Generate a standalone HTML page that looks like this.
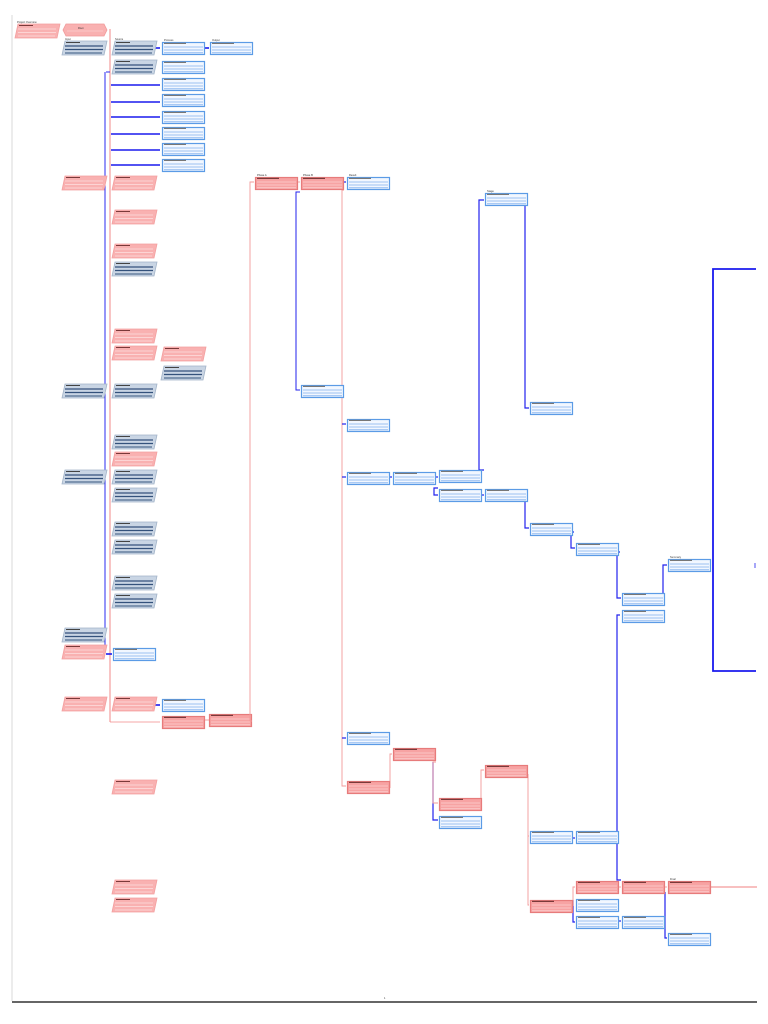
<!DOCTYPE html>
<html><head><meta charset="utf-8"><style>
html,body{margin:0;padding:0;background:#fff;width:768px;height:1024px;overflow:hidden}
svg{display:block}
text{font-family:"Liberation Sans",sans-serif;font-size:2.6px;fill:#333}
</style></head><body>
<svg width="768" height="1024" viewBox="0 0 768 1024" xmlns="http://www.w3.org/2000/svg">
<defs>
<g id="bn"><rect x="0.5" y="0.5" width="42" height="12" fill="#f2f7ff" stroke="#5b9be6" stroke-width="1.2"/><rect x="2" y="0.8" width="22" height="1.2" fill="#777"/><line x1="2" y1="5" x2="41" y2="5" stroke="#7fb0ee" stroke-width="0.8"/><line x1="2" y1="8" x2="41" y2="8" stroke="#7fb0ee" stroke-width="0.8"/><line x1="2" y1="10.8" x2="41" y2="10.8" stroke="#7fb0ee" stroke-width="0.8"/></g>
<g id="pn"><rect x="0.5" y="0.5" width="42" height="12" fill="#f7a3a3" stroke="#e77b7b" stroke-width="1.2"/><rect x="2" y="0.8" width="22" height="1.2" fill="#7a3a3a"/><line x1="2" y1="5" x2="41" y2="5" stroke="#fcd2d2" stroke-width="0.8"/><line x1="2" y1="8" x2="41" y2="8" stroke="#fcd2d2" stroke-width="0.8"/><line x1="2" y1="10.8" x2="41" y2="10.8" stroke="#fcd2d2" stroke-width="0.8"/></g>
<g id="gp"><polygon points="3,0 45,0 42,14 0,14" fill="#c9d5e4" stroke="#a3b4c8" stroke-width="0.8"/><rect x="4" y="1" width="14" height="1" fill="#444"/><line x1="3" y1="5" x2="41" y2="5" stroke="#34527c" stroke-width="1.2"/><line x1="3" y1="8.5" x2="41" y2="8.5" stroke="#34527c" stroke-width="1.2"/><line x1="3" y1="12" x2="40" y2="12" stroke="#34527c" stroke-width="1"/></g>
<g id="pp"><polygon points="3,0 45,0 42,14 0,14" fill="#f9b1b1" stroke="#f3a0a0" stroke-width="0.8"/><rect x="4" y="1" width="14" height="1" fill="#7a3a3a"/><line x1="3" y1="5" x2="41" y2="5" stroke="#fde0e0" stroke-width="0.8"/><line x1="3" y1="8.5" x2="41" y2="8.5" stroke="#fde0e0" stroke-width="0.8"/><line x1="3" y1="12" x2="40" y2="12" stroke="#fde0e0" stroke-width="0.8"/></g>
</defs>

<!-- frame -->
<line x1="12" y1="15" x2="12" y2="1001" stroke="#e6e6e6" stroke-width="1.5"/>
<line x1="12" y1="1002" x2="757" y2="1002" stroke="#333" stroke-width="1.6"/>

<!-- left vertical lines -->
<line x1="110" y1="29" x2="110" y2="722" stroke="#f28a8a" stroke-width="1"/>
<path d="M105,72 V650" stroke="#2b2bf0" stroke-width="1" fill="none"/>
<path d="M106,72 h4" stroke="#2b2bf0" stroke-width="1"/>
<!-- blue horizontal connectors -->
<g stroke="#1a1aee" stroke-width="1.6">
<line x1="111" y1="85" x2="160" y2="85"/><line x1="111" y1="102" x2="160" y2="102"/>
<line x1="111" y1="117" x2="160" y2="117"/><line x1="111" y1="134" x2="160" y2="134"/>
<line x1="111" y1="150" x2="160" y2="150"/><line x1="111" y1="165" x2="160" y2="165"/>
<line x1="155" y1="48" x2="160" y2="48"/><line x1="205" y1="48" x2="209" y2="48"/>
<line x1="155" y1="705" x2="160" y2="705"/><line x1="106" y1="654" x2="112" y2="654"/>
</g>
<path d="M110,722 H160" stroke="#f28a8a" stroke-width="0.8" fill="none"/>
<path d="M205,720 H209" stroke="#f28a8a" stroke-width="0.8"/>

<!-- left nodes -->
<use href="#pp" x="15" y="24"/>
<polygon points="66,24 104,24 107,30 104,36 66,36 63,30" fill="#f9b1b1" stroke="#f09a9a" stroke-width="0.8"/>
<line x1="67" y1="31" x2="103" y2="31" stroke="#fde0e0" stroke-width="0.6"/>
<use href="#gp" x="62" y="41"/>
<use href="#gp" x="112" y="41"/>
<use href="#bn" x="162" y="42"/><use href="#bn" x="210" y="42"/>
<use href="#gp" x="112" y="60"/>
<use href="#bn" x="162" y="61"/>
<use href="#bn" x="162" y="78"/><use href="#bn" x="162" y="94"/>
<use href="#bn" x="162" y="111"/><use href="#bn" x="162" y="127"/>
<use href="#bn" x="162" y="143"/><use href="#bn" x="162" y="159"/>
<use href="#pp" x="62" y="176"/><use href="#pp" x="112" y="176"/>
<use href="#pp" x="112" y="210"/><use href="#pp" x="112" y="244"/>
<use href="#gp" x="112" y="262"/>
<use href="#pp" x="112" y="329"/><use href="#pp" x="112" y="346"/>
<use href="#pp" x="161" y="347"/><use href="#gp" x="161" y="366"/>
<use href="#gp" x="62" y="384"/><use href="#gp" x="112" y="384"/>
<use href="#gp" x="112" y="435"/><use href="#pp" x="112" y="452"/>
<use href="#gp" x="112" y="470"/><use href="#gp" x="62" y="470"/>
<use href="#gp" x="112" y="488"/>
<use href="#gp" x="112" y="522"/><use href="#gp" x="112" y="540"/>
<use href="#gp" x="112" y="576"/><use href="#gp" x="112" y="594"/>
<use href="#gp" x="62" y="628"/><use href="#pp" x="62" y="645"/>
<use href="#bn" x="113" y="648"/>
<use href="#pp" x="62" y="697"/><use href="#pp" x="112" y="697"/>
<use href="#bn" x="162" y="699"/>
<use href="#pn" x="162" y="716"/><use href="#pn" x="209" y="714"/>
<use href="#pp" x="112" y="780"/>
<use href="#pp" x="112" y="880"/><use href="#pp" x="112" y="898"/>

<!-- middle connectors -->
<path d="M252,721 H250 V182 H254" stroke="#f29a9a" stroke-width="0.9" fill="none"/>
<path d="M298,182 H300" stroke="#f29a9a" stroke-width="0.9"/>
<path d="M300,192 H296 V390 H300" stroke="#2222ee" stroke-width="1" fill="none"/>
<path d="M344,190 H342 V786 H346" stroke="#f29a9a" stroke-width="0.9" fill="none"/>
<path d="M344,182 H346" stroke="#2222ee" stroke-width="1.2"/>
<g stroke="#2222ee" stroke-width="1.2" fill="none">
<path d="M342,424 H346"/><path d="M342,477 H346"/><path d="M342,738 H346"/>
<path d="M390,477 H392"/><path d="M436,477 H438"/>
<path d="M484,470 H479 V200 H484"/>
<path d="M528,205 H525 V408 H529"/>
<path d="M438,488 H434 V495 H438"/><path d="M482,495 H484"/>
<path d="M528,498 H525 V528 H529"/>
<path d="M574,532 H571 V548 H575"/>
<path d="M620,552 H617 V598 H621"/>
<path d="M665,598 H663 V565 H667"/>
<path d="M620,615 H617 V880 H621"/>
<path d="M433,762 V820 H438"/>
<path d="M573,838 H575"/>
<path d="M665,892 V938 H667"/>
<path d="M619,921 H621"/>
<path d="M573,900 V922 H575"/>
</g>
<g stroke="#f29a9a" stroke-width="0.9" fill="none">
<path d="M390,788 V754 H392"/>
<path d="M436,762 H433 V803 H438"/>
<path d="M481,803 V770 H484"/>
<path d="M528,774 V905 H529"/>
<path d="M528,836 H529"/>
<path d="M573,906 V887 H575"/>
<path d="M619,887 H621"/><path d="M665,887 H667"/>
</g>
<!-- right bracket -->
<path d="M756,269 H713 V671 H756" stroke="#1a1aee" stroke-width="1.8" fill="none"/>
<line x1="711" y1="887" x2="757" y2="887" stroke="#f08080" stroke-width="1"/>
<line x1="755" y1="563" x2="755" y2="568" stroke="#2222ee" stroke-width="0.8"/>

<!-- middle nodes -->
<use href="#pn" x="255" y="177"/><use href="#pn" x="301" y="177"/>
<use href="#bn" x="347" y="177"/>
<use href="#bn" x="301" y="385"/>
<use href="#bn" x="485" y="193"/>
<use href="#bn" x="530" y="402"/>
<use href="#bn" x="347" y="419"/>
<use href="#bn" x="347" y="472"/><use href="#bn" x="393" y="472"/><use href="#bn" x="439" y="470"/>
<use href="#bn" x="439" y="489"/><use href="#bn" x="485" y="489"/>
<use href="#bn" x="530" y="523"/>
<use href="#bn" x="576" y="543"/>
<use href="#bn" x="668" y="559"/>
<use href="#bn" x="622" y="593"/><use href="#bn" x="622" y="610"/>
<use href="#bn" x="347" y="732"/>
<use href="#pn" x="347" y="781"/>
<use href="#pn" x="393" y="748"/>
<use href="#pn" x="485" y="765"/>
<use href="#pn" x="439" y="798"/><use href="#bn" x="439" y="816"/>
<use href="#bn" x="530" y="831"/><use href="#bn" x="576" y="831"/>
<use href="#pn" x="530" y="900"/>
<use href="#pn" x="576" y="881"/><use href="#pn" x="622" y="881"/><use href="#pn" x="668" y="881"/>
<use href="#bn" x="576" y="899"/>
<use href="#bn" x="576" y="916"/><use href="#bn" x="622" y="916"/>
<use href="#bn" x="668" y="933"/>

<!-- labels -->
<text x="17" y="23">Project Overview</text>
<text x="78" y="29">Root</text>
<text x="65" y="40">Input</text>
<text x="115" y="40">Source</text>
<text x="164" y="41">Process</text>
<text x="212" y="41">Output</text>
<text x="257" y="176">Phase A</text>
<text x="303" y="176">Phase B</text>
<text x="349" y="176">Result</text>
<text x="487" y="192">Stage</text>
<text x="670" y="558">Summary</text>
<text x="670" y="880">Final</text>
<text x="384" y="999">1</text>
</svg>
</body></html>
